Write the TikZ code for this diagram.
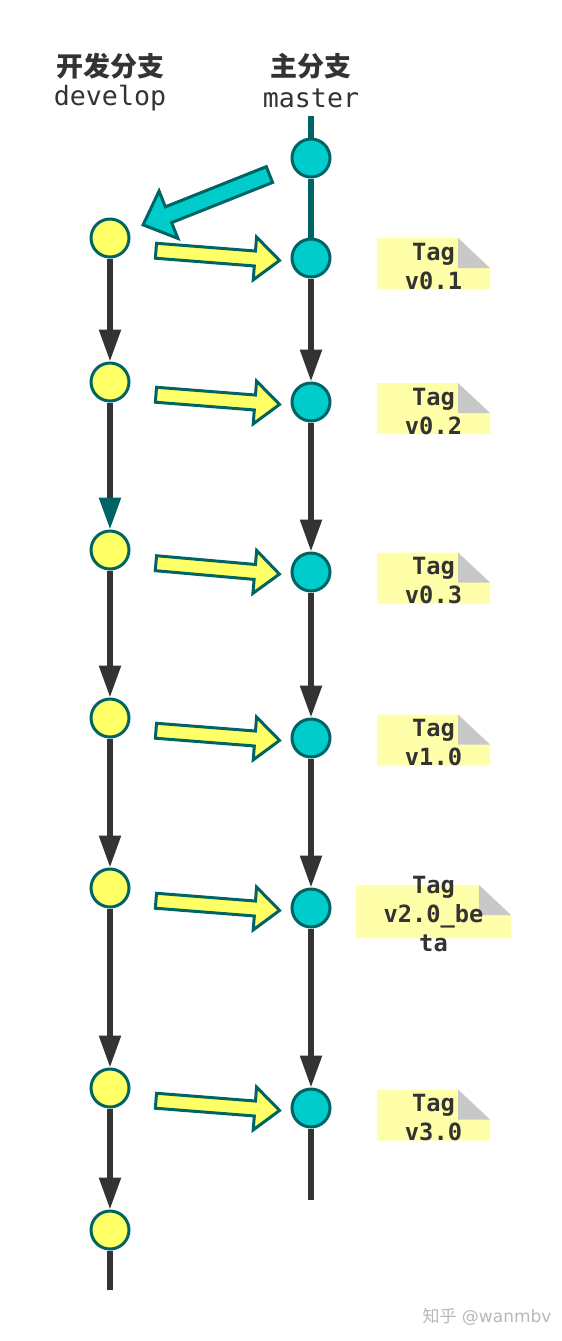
\documentclass[tikz,border=0pt]{standalone}
\usepackage{fontspec}
\setmonofont{DejaVu Sans Mono}
\newfontfamily\cjk{Noto Sans CJK SC}
\newfontfamily\wmfont{DejaVu Sans}
\usetikzlibrary{arrows.meta,shapes.arrows}
\definecolor{yfill}{HTML}{FFFF66}
\definecolor{cfill}{HTML}{00CCCC}
\definecolor{edge}{HTML}{006464}
\definecolor{ink}{HTML}{333333}
\definecolor{notebg}{HTML}{FFFFAA}
\definecolor{fold}{HTML}{C8C8C8}
\tikzset{
  dev/.style={circle, draw=edge, fill=yfill, line width=1.5pt,
              minimum size=19pt, inner sep=0pt},
  mas/.style={dev, fill=cfill},
  trunk/.style={draw=ink, line width=2.75pt},
  down/.style={trunk, -{Triangle[length=16pt,width=10.5pt]}},
  hdr/.style={text=ink, font=\cjk\bfseries\fontsize{13.5}{15}\selectfont},
  hdrname/.style={text=ink, font=\ttfamily\fontsize{13.3}{15}\selectfont},
  merge/.style={single arrow, draw=edge, fill=yfill, line width=1.5pt,
                inner xsep=0pt, inner ysep=3pt, single arrow head extend=7pt,
                single arrow tip angle=82, minimum height=62pt,
                pos=.5, sloped, rotate=1.2, xshift=1.75pt, yshift=-3.5pt},
  branch/.style={single arrow, draw=edge, fill=cfill, line width=1.5pt,
                 inner xsep=0pt, inner ysep=3.5pt, single arrow head extend=8.5pt,
                 single arrow tip angle=86, minimum height=68pt,
                 pos=.5, sloped, allow upside down},
  tagnote/.style={minimum width=56.5pt, minimum height=25.5pt, inner sep=0pt,
    path picture={
      \fill[notebg] (path picture bounding box.south west)
        -- (path picture bounding box.north west)
        -- ([xshift=-16pt]path picture bounding box.north east)
        -- ([yshift=-15pt]path picture bounding box.north east)
        -- (path picture bounding box.south east) -- cycle;
      \fill[fold] ([xshift=-16pt]path picture bounding box.north east)
        -- ([xshift=-16pt,yshift=-15pt]path picture bounding box.north east)
        -- ([yshift=-15pt]path picture bounding box.north east) -- cycle;
    }},
  tagtext/.style={text=ink, align=center, yshift=-1.5pt,
                  font=\ttfamily\bfseries\fontsize{11.85}{14.5}\selectfont},
}
\begin{document}
\begin{tikzpicture}[x=0.5pt, y=-0.5pt]
  \useasboundingbox (0,0) rectangle (562,1341);

  % headers
  \node[hdr] (hdev) at (110,66) {开发分支};
  \node[hdrname] (hdevname) at (110,98) {develop};
  \node[hdr] (hmas) at (311,66) {主分支};
  \node[hdrname] (hmasname) at (311,98) {master};

  % develop commits
  \node[dev] (d1) at (110,238) {};
  \node[dev] (d2) at (110,382) {};
  \node[dev] (d3) at (110,550) {};
  \node[dev] (d4) at (110,718) {};
  \node[dev] (d5) at (110,888) {};
  \node[dev] (d6) at (110,1088) {};
  \node[dev] (d7) at (110,1230) {};
  \coordinate (devend) at (110,1290);

  % master commits
  \coordinate (mastop) at (311,116);
  \node[mas] (m1) at (311,158) {};
  \node[mas] (m2) at (311,258) {};
  \node[mas] (m3) at (311,402) {};
  \node[mas] (m4) at (311,572) {};
  \node[mas] (m5) at (311,738) {};
  \node[mas] (m6) at (311,908) {};
  \node[mas] (m7) at (311,1108) {};
  \coordinate (masend) at (311,1200);

  % branch lines
  \draw[trunk, draw=edge] (mastop) -- (m1);
  \draw[trunk, draw=edge] (m1) -- (m2);
  \draw[down] (m2) -- (m3);
  \draw[down] (m3) -- (m4);
  \draw[down] (m4) -- (m5);
  \draw[down] (m5) -- (m6);
  \draw[down] (m6) -- (m7);
  \draw[trunk] (m7) -- (masend);
  \draw[down] (d1) -- (d2);
  \draw[trunk, -{Triangle[length=16pt,width=10.5pt,color=edge]}] (d2) -- (d3);
  \draw[down] (d3) -- (d4);
  \draw[down] (d4) -- (d5);
  \draw[down] (d5) -- (d6);
  \draw[down] (d6) -- (d7);
  \draw[trunk] (d7) -- (devend);

  % branch off and merges
  \path (m1) -- (d1) node[branch] (b1) {};
  \path (d1) -- (m2) node[merge] (g1) {};
  \path (d2) -- (m3) node[merge] (g2) {};
  \path (d3) -- (m4) node[merge] (g3) {};
  \path (d4) -- (m5) node[merge] (g4) {};
  \path (d5) -- (m6) node[merge] (g5) {};
  \path (d6) -- (m7) node[merge] (g6) {};

  % tags
  \node[tagnote, label={[tagtext]center:{Tag\\v0.1}}] (t1) at (433.5,263.5) {};
  \node[tagnote, label={[tagtext]center:{Tag\\v0.2}}] (t2) at (433.5,408.5) {};
  \node[tagnote, label={[tagtext]center:{Tag\\v0.3}}] (t3) at (433.5,578) {};
  \node[tagnote, label={[tagtext]center:{Tag\\v1.0}}] (t4) at (433.5,740) {};
  \node[tagnote, minimum width=77.5pt, minimum height=26.5pt,
        label={[tagtext]center:{Tag\\v2.0\_be\\ta}}] (t5) at (433.5,911.5) {};
  \node[tagnote, label={[tagtext]center:{Tag\\v3.0}}] (t6) at (433.5,1115) {};

  \node[text=black!28, font=\wmfont\fontsize{8.5}{10}\selectfont] (wm) at (487,1317)
    {{\cjk 知乎} @wanmbv};
\end{tikzpicture}
\end{document}
